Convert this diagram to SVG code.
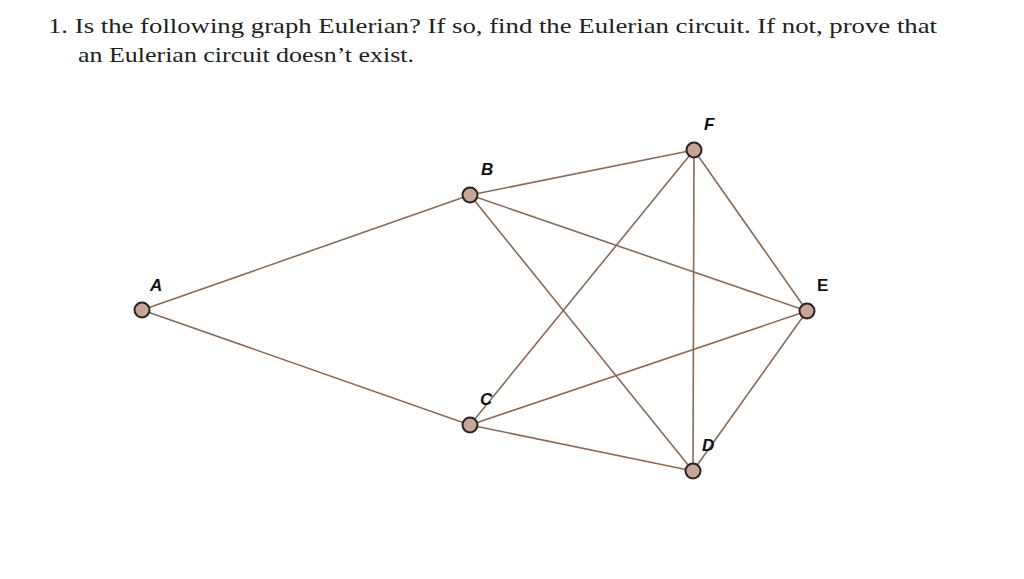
<svg xmlns="http://www.w3.org/2000/svg" width="1024" height="579" viewBox="0 0 1024 579">
<style>
.t{font-family:"Liberation Serif","DejaVu Serif",serif;font-size:22px;fill:#222}
.e{stroke:#8a6a55;stroke-width:1.6;fill:none}
.n{fill:#c6a696;stroke:#2a2220;stroke-width:2}
.l{font-family:"Liberation Sans",Arial,sans-serif;font-size:17px;font-weight:bold;font-style:italic;fill:#111}
</style>
<rect width="1024" height="579" fill="#fff"/>
<text class="t" x="48" y="33" textLength="889" lengthAdjust="spacingAndGlyphs">1. Is the following graph Eulerian? If so, find the Eulerian circuit. If not, prove that</text>
<text class="t" x="78" y="62" textLength="336" lengthAdjust="spacingAndGlyphs">an Eulerian circuit doesn’t exist.</text>
<g id="edges">
<line class="e" x1="142" y1="310" x2="470" y2="195"/>
<line class="e" x1="142" y1="310" x2="470" y2="425"/>
<line class="e" x1="470" y1="195" x2="694" y2="150"/>
<line class="e" x1="470" y1="195" x2="807" y2="311"/>
<line class="e" x1="470" y1="195" x2="693" y2="471"/>
<line class="e" x1="470" y1="425" x2="694" y2="150"/>
<line class="e" x1="470" y1="425" x2="807" y2="311"/>
<line class="e" x1="470" y1="425" x2="693" y2="471"/>
<line class="e" x1="694" y1="150" x2="693" y2="471"/>
<line class="e" x1="694" y1="150" x2="807" y2="311"/>
<line class="e" x1="807" y1="311" x2="693" y2="471"/>
</g>
<g id="A"><circle class="n" cx="142" cy="310" r="7.5"/><text class="l" x="150" y="291">A</text></g>
<g id="B"><circle class="n" cx="470" cy="195" r="7.5"/><text class="l" x="481" y="175">B</text></g>
<g id="C"><circle class="n" cx="470" cy="425" r="7.5"/><text class="l" x="480" y="405">C</text></g>
<g id="D"><circle class="n" cx="693" cy="471" r="7.5"/><text class="l" x="702" y="451">D</text></g>
<g id="E"><circle class="n" cx="807" cy="311" r="7.5"/><text class="l" x="817" y="291" style="font-style:normal">E</text></g>
<g id="F"><circle class="n" cx="694" cy="150" r="7.5"/><text class="l" x="704" y="130">F</text></g>
</svg>
